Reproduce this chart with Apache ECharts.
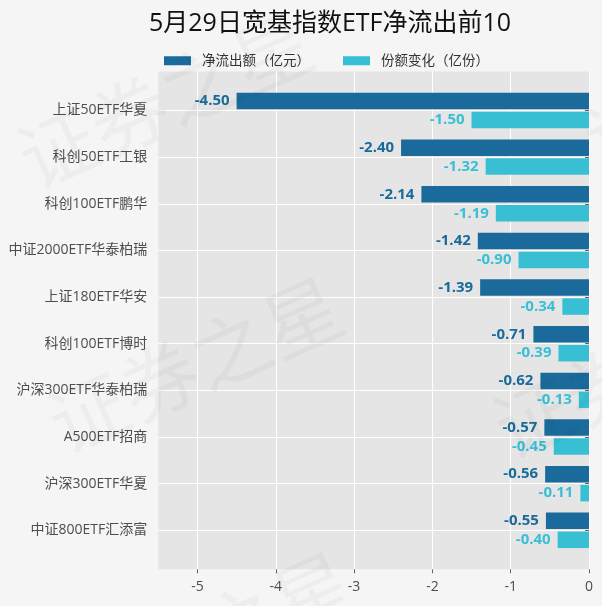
<!DOCTYPE html>
<html>
<head>
<meta charset="utf-8">
<script src="https://cdn.jsdelivr.net/npm/echarts@6/dist/echarts.min.js"></script>
<style>
    html, body { margin: 0; padding: 0; background: #f5f5f5; }
    #divEtfChart { width: 602px; height: 606px; }
</style>
</head>
<body>
<div id="divEtfChart"></div>
<script>
var categories = ['上证50ETF华夏', '科创50ETF工银', '科创100ETF鹏华', '中证2000ETF华泰柏瑞', '上证180ETF华安',
    '科创100ETF博时', '沪深300ETF华泰柏瑞', 'A500ETF招商', '沪深300ETF华夏', '中证800ETF汇添富'];
var netOutflow = [-4.50, -2.40, -2.14, -1.42, -1.39, -0.71, -0.62, -0.57, -0.56, -0.55];
var shareChange = [-1.50, -1.32, -1.19, -0.90, -0.34, -0.39, -0.13, -0.45, -0.11, -0.40];
var xTicks = [-5, -4, -3, -2, -1, 0];
var seriesNames = ['净流出额（亿元）', '份额变化（亿份）'];

(function () {
    var etfReport = {
        init: function () {
            this.initChart();
        },
        watermark: function (x, y) {
            return {
                type: 'text', x: x, y: y, rotation: 0.42, z: 100, silent: true,
                style: {
                    text: '证券之星', fontSize: 78, fill: 'rgba(0,0,0,0.03)',
                    fontFamily: 'Noto Sans CJK SC', align: 'center', verticalAlign: 'middle'
                }
            };
        },
        initChart: function () {
            var myChart = echarts.init(document.getElementById('divEtfChart'));
            var font = "'Open Sans', 'Noto Sans CJK SC', sans-serif";
            var barLabel = function (color) {
                return {
                    show: true, position: 'left', distance: 7,
                    color: color, fontSize: 15, fontWeight: 'bold', fontFamily: font,
                    formatter: function (p) { return p.value.toFixed(2); }
                };
            };
            var option = {
                backgroundColor: '#f5f5f5',
                textStyle: { fontFamily: font },
                title: {
                    text: '5月29日宽基指数ETF净流出前10',
                    left: 144, top: 6,
                    textStyle: { fontSize: 25, fontWeight: 'normal', color: '#111', fontFamily: font }
                },
                legend: {
                    left: 159, top: 49,
                    itemWidth: 27, itemHeight: 9, itemGap: 33,
                    icon: 'rect',
                    textStyle: { fontSize: 13.5, color: '#333', padding: [0, 0, 0, 6] },
                    data: seriesNames
                },
                graphic: [
                    this.watermark(165, 100),
                    this.watermark(195, 365),
                    this.watermark(640, 370),
                    this.watermark(730, 80),
                    this.watermark(205, 640)
                ],
                grid: [
                    { left: 158.3, right: 13, top: 71.5, bottom: 36.7, show: true, backgroundColor: '#e5e5e5', borderWidth: 0 },
                    { left: 158.3, right: 13, top: 87.15, bottom: 52.35 }
                ],
                xAxis: [
                    {
                        type: 'value', gridIndex: 0, min: -5.5, max: 0, offset: 2,
                        axisLine: { show: false },
                        axisTick: { show: true, length: 4, customValues: xTicks, lineStyle: { color: '#666' } },
                        axisLabel: { customValues: xTicks, color: '#4d4d4d', fontSize: 14, margin: 9 },
                        splitLine: { show: true, lineStyle: { color: '#fff', width: 1 } }
                    },
                    { type: 'value', gridIndex: 1, min: -5.5, max: 0, show: false }
                ],
                yAxis: [
                    { type: 'value', gridIndex: 0, show: false },
                    {
                        type: 'category', gridIndex: 1, data: categories, inverse: true, offset: 2,
                        axisLine: { show: false },
                        axisTick: { show: true, alignWithLabel: true, length: 4, lineStyle: { color: '#666' } },
                        axisLabel: { color: '#4d4d4d', fontSize: 14, margin: 9 },
                        splitLine: { show: true, alignWithLabel: true, lineStyle: { color: '#fff', width: 1 } }
                    }
                ],
                series: [
                    {
                        name: seriesNames[0], type: 'bar', xAxisIndex: 1, yAxisIndex: 1,
                        data: netOutflow, barWidth: 16.5, barGap: '15%',
                        itemStyle: { color: '#1a6b9b' },
                        label: barLabel('#1a6b9b')
                    },
                    {
                        name: seriesNames[1], type: 'bar', xAxisIndex: 1, yAxisIndex: 1,
                        data: shareChange, barWidth: 16.5, barGap: '15%',
                        itemStyle: { color: '#38bfd4' },
                        label: barLabel('#38bfd4')
                    }
                ]
            };
            myChart.setOption(option);
        }
    };
    etfReport.init();
})();
</script>
</body>
</html>
